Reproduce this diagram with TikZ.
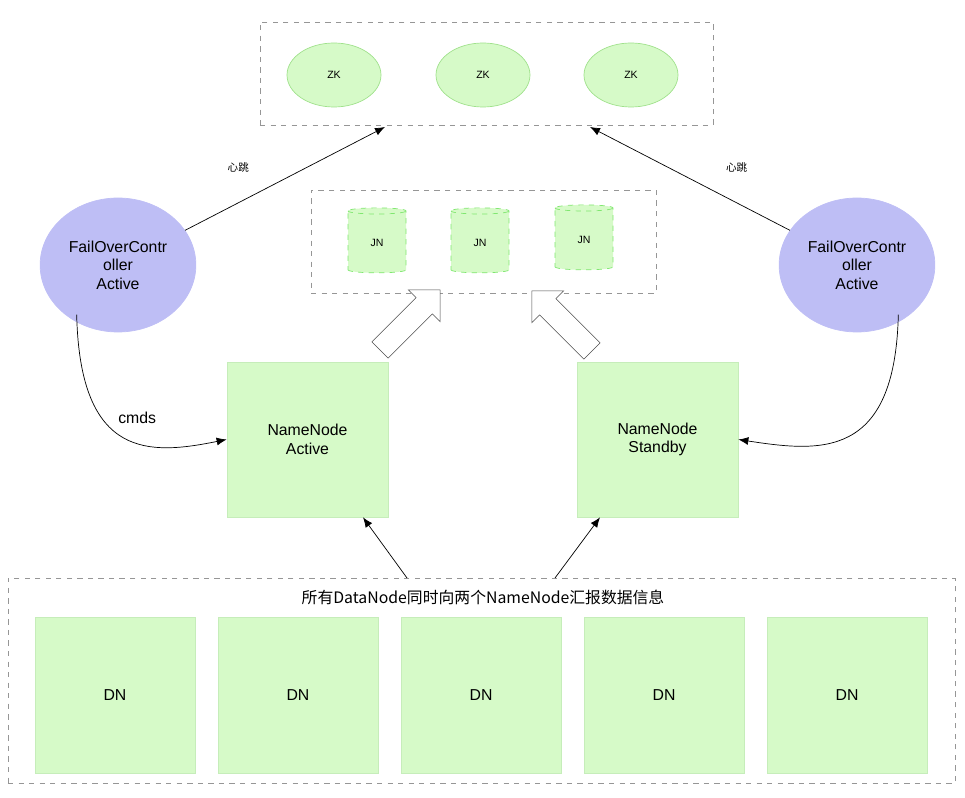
\documentclass[tikz,border=0pt]{standalone}
\usepackage{fontspec}
\setmainfont{Liberation Sans}
\newfontfamily\cjk{Noto Sans CJK SC}
\usetikzlibrary{shapes,shapes.arrows,arrows.meta,positioning}
\definecolor{lightgreen}{RGB}{214,250,200}
\definecolor{edgegreen}{RGB}{160,225,140}
\definecolor{lavender}{RGB}{190,190,245}
\definecolor{boxgray}{RGB}{150,150,150}
\tikzset{
	>={Latex[width=1.6mm,length=2mm]},
	% Specifications for style of nodes:
	group/.style = {rectangle, draw=boxgray, dashed, line width=0.3pt},
	zk/.style = {ellipse, fill=lightgreen, draw=edgegreen,
	minimum width=18.8mm, minimum height=12.8mm, font=\fontsize{6}{7}\selectfont},
	jn/.style = {cylinder, shape border rotate=90, aspect=0.25, fill=lightgreen,
	draw=edgegreen!80!green, dashed, minimum width=11.6mm, minimum height=13mm,
	font=\fontsize{6}{7}\selectfont},
	foc/.style = {ellipse, fill=lavender, draw=lavender,
	minimum width=30.8mm, minimum height=26.8mm, align=center,
	font=\fontsize{9}{10.5}\selectfont},
	nn/.style = {rectangle, fill=lightgreen, draw=edgegreen!60,
	minimum width=32.2mm, minimum height=31mm, align=center,
	font=\fontsize{9}{10.5}\selectfont},
	dn/.style = {rectangle, fill=lightgreen, draw=edgegreen!60,
	minimum width=32mm, minimum height=31.2mm, font=\fontsize{9}{10.5}\selectfont},
	bigarrow/.style = {single arrow, draw=black!70, fill=white, line width=0.3pt,
	minimum height=17mm, minimum width=9mm, single arrow head extend=1.2mm,
	inner sep=1.2mm},
	link/.style = {line width=0.4pt, ->},
	lbl/.style = {font=\cjk\fontsize{6}{7}\selectfont},
}
\begin{document}
\begin{tikzpicture}[x=0.2mm, y=-0.2mm]
	\useasboundingbox (0,0) rectangle (965,798);
		% dashed groups
		\node (zkgrp)[group, minimum width=90.6mm, minimum height=20.6mm] at (486.5,73.5) {};
		\node (jngrp)[group, minimum width=69mm, minimum height=20.6mm] at (483.5,241.5) {};
		\node (dngrp)[group, minimum width=189.4mm, minimum height=41mm] at (481.5,680.5) {};
		% ZooKeeper
		\node (zk1)[zk] at (334,75) {ZK};
		\node (zk2)[zk] at (483,75) {ZK};
		\node (zk3)[zk] at (631,75) {ZK};
		% JournalNodes
		\node (jn1)[jn] at (377,243) {JN};
		\node (jn2)[jn] at (480,243) {JN};
		\node (jn3)[jn] at (584,240) {JN};
		% failover controllers
		\node (focl)[foc] at (118,265) {FailOverContr\\oller\\Active};
		\node (focr)[foc] at (857,265) {FailOverContr\\oller\\Active};
		% namenodes
		\node (nna)[nn] at (307.5,439.5) {NameNode\\Active};
		\node (nns)[nn] at (657.5,439.5) {NameNode\\Standby};
		% edit log arrows
		\node (upl)[bigarrow, rotate=45] at (406,324) {};
		\node (upr)[bigarrow, rotate=135] at (566,325) {};
		% datanodes
		\node (title) at (483,597) {\cjk\fontsize{9}{10.5}\selectfont 所有DataNode同时向两个NameNode汇报数据信息};
		\node (dn1)[dn] at (115,695) {DN};
		\node (dn2)[dn] at (298,695) {DN};
		\node (dn3)[dn] at (481,695) {DN};
		\node (dn4)[dn] at (664,695) {DN};
		\node (dn5)[dn] at (847,695) {DN};
		\coordinate (fromL) at (407,578);
		\coordinate (fromR) at (555,578);
		\coordinate (zkL) at (385,127);
		\coordinate (zkR) at (590,127);
		% draw arrows between nodes
		\draw[link](focl) -- (zkL) node[lbl, pos=0.4, above left=2mm and 2mm] {心跳};
		\draw[link](focr) -- (zkR) node[lbl, pos=0.4, above right=2mm and 2mm] {心跳};
		\draw[link](focl.south west) ++(14,2) .. controls (80,460) and (150,455) .. (nna.west) node[pos=0.35, right=2mm, font=\fontsize{9}{10.5}\selectfont] {cmds};
		\draw[link](focr.south east) ++(-14,2) .. controls (895,460) and (820,452) .. (nns.east);
		\draw[link](fromL) -- (nna.south -| 363,0);
		\draw[link](fromR) -- (nns.south -| 600,0);
	\end{tikzpicture}
\end{document}
